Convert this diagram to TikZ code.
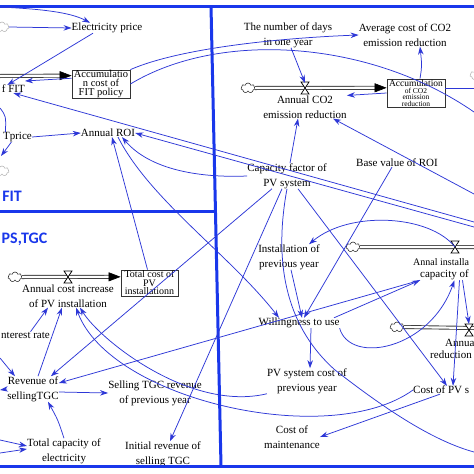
\documentclass[tikz,border=0pt]{standalone}
\usepackage{fontspec}
\setmainfont{Liberation Serif}
\newfontfamily\hdfont{Carlito}
\usetikzlibrary{arrows.meta,shapes.symbols,calc}
\definecolor{frameblue}{RGB}{25,55,235}
\definecolor{linkblue}{RGB}{45,55,215}
\tikzset{
  lbl/.style={font=\fontsize{11}{15}\selectfont, align=center, inner sep=0pt, text=black},
  link/.style={draw=linkblue, line width=0.75pt, -{Stealth[length=8pt,width=5.5pt]}},
  plainlink/.style={draw=linkblue, line width=0.75pt},
  frameline/.style={draw=frameblue, line width=3pt},
  lvlbox/.style={draw=black!80, line width=0.8pt, inner sep=0pt, minimum width=58pt, minimum height=28pt, align=center, fill=white},
  pipe/.style={draw=black!75, double=white, double distance=2.2pt, line width=0.9pt},
  pipetip/.style={-{Triangle[length=12pt,width=9pt]}, draw=black, line width=0.6pt},
  src/.style={cloud, cloud puffs=7, aspect=1.6, draw=black!80, line width=0.6pt, minimum width=14pt, minimum height=10pt, inner sep=0pt, fill=white},
  ghost/.style={src, draw=gray!55},
  hdr/.style={font=\hdfont\bfseries\fontsize{16}{16}\selectfont, text=frameblue, inner sep=0pt},
  valve/.pic={\filldraw[fill=white, draw=black, line width=0.7pt] (-4,-6)--(4,-6)--(-4,6)--(4,6)--cycle;}
}
\begin{document}
\begin{tikzpicture}[x=1pt,y=-1pt]
\useasboundingbox (0,0) rectangle (474,474);
\clip (0,0) rectangle (474,474);
\fill[white] (0,0) rectangle (474,474);

% ---------- nodes: top-left (FIT) ----------
\node[lbl] (elec) at (107,28) {Electricity price};
\node[lbl, anchor=east] (ffit) at (25,89) {f FIT};
\node[lvlbox, font=\fontsize{10.5}{9}\selectfont] (accfit) at (101,84) {Accumulatio\\n cost of\\FIT policy};
\node[lbl, anchor=east] (tprice) at (32,137) {Tprice};
\node[lbl] (roi) at (108,133) {Annual ROI};
\node[hdr, anchor=east] (fit) at (22,196) {FIT};
\node[ghost] (gh1) at (2,27) {};
\node[ghost] (gh2) at (2,171) {};

% ---------- nodes: right panel ----------
\node[lbl] (ndays) at (288,35) {The number of days\\in one year};
\node[lbl] (avgco2) at (405,35) {Average cost of CO2\\emission reduction};
\node[src] (cl1) at (248,88) {};
\coordinate (v1) at (305,88);
\node[lvlbox, font=\fontsize{7.5}{6.5}\selectfont] (accco2) at (416,93) {{\fontsize{9.5}{6.5}\selectfont Accumulation}\\of CO2\\emission\\reduction};
\node[lbl] (co2red) at (305,107) {Annual CO2\\emission reduction};
\node[ghost] (gh3) at (477,75) {};
\node[lbl] (capfac) at (287,176) {Capacity factor of\\PV system};
\node[lbl] (baseroi) at (397,163) {Base value of ROI};
\node[lbl] (instprev) at (289,257) {Installation of\\previous year};
\node[src] (cl2) at (353,247) {};
\coordinate (v2) at (455,247);
\node[lbl, anchor=west, font=\fontsize{10}{15}\selectfont] (annal) at (413,262) {Annal installa};
\node[lbl, anchor=west] (annalb) at (420,275) {capacity of};
\node[lbl] (willing) at (299,323) {Willingness to use};
\node[src] (cl3) at (397,327) {};
\coordinate (v3) at (469,330);
\node[lbl, anchor=west] (annua) at (445,343) {Annua};
\node[lbl, anchor=west] (annuab) at (430,355) {reduction};
\node[lbl, anchor=west] (costpv) at (413,390) {Cost of PV s};
\node[lbl] (pvprev) at (307,381) {PV system cost of\\previous year};
\node[lbl] (costmaint) at (292,437) {Cost of\\maintenance};

% ---------- nodes: bottom-left (RPS,TGC) ----------
\node[hdr, anchor=east] (pstgc) at (47.5,239) {PS,TGC};
\node[src] (cl4) at (15,277) {};
\coordinate (v4) at (68,277);
\node[lvlbox, minimum width=57pt, minimum height=26pt, font=\fontsize{10}{8.5}\selectfont] (totcost) at (149.5,283) {Total cost of\\PV\\installationn};
\node[lbl] (anncost) at (68,296) {Annual cost increase\\of PV installation};
\node[lbl, anchor=east] (interest) at (50,335) {nterest rate};
\node[lbl] (revenue) at (33,389) {Revenue of\\sellingTGC};
\node[lbl] (selltgc) at (155,393) {Selling TGC revenue\\of previous year};
\node[lbl] (totcap) at (64,451) {Total capacity of\\electricity};
\node[lbl] (initrev) at (163,454) {Initial revenue of\\selling TGC};

% ---------- free ends at picture edges ----------
\coordinate (e0) at (0,7);
\coordinate (p0) at (0,76);
\coordinate (r1) at (474,112);
\coordinate (r2) at (474,222);
\coordinate (r3) at (474,227);
\coordinate (r4) at (474,194);
\coordinate (r5) at (474,88);
\coordinate (r6) at (474,452);
\coordinate (r7) at (474,247);
\coordinate (r8) at (474,328);
\coordinate (l0) at (0,108);
\coordinate (l1) at (1,156);
\coordinate (l2) at (0,358);
\coordinate (l3) at (0,390);
\coordinate (l4) at (0,440);
\coordinate (l5) at (0,453);
\coordinate (accin) at ($(accfit.north west)!0.21!(accfit.south west)$);
\coordinate (acc2in) at ($(accco2.north west)!0.32!(accco2.south west)$);
\coordinate (totin) at ($(totcost.north west)!0.27!(totcost.south west)$);

% ---------- frame ----------
\draw[frameline] (0,6) -- (474,6);
\draw[frameline] (211,6) -- (221,466);
\draw[frameline] (0,211) -- (214.5,211);
\draw[frameline] (0,466) -- (474,466);

% ---------- flows (pipes) ----------
\draw[pipe] (p0) -- ($(accin)+(-11,0)$);
\draw[pipetip] ($(accin)+(-12,0)$) -- (accin);
\draw[pipe] (cl1.east) -- ($(acc2in)+(-11,0)$);
\draw[pipetip] ($(acc2in)+(-12,0)$) -- (acc2in);
\draw[pipe] (cl4.east) -- ($(totin)+(-11,0)$);
\draw[pipetip] ($(totin)+(-12,0)$) -- (totin);
\draw[pipe] (cl2.east) -- (r7);
\draw[pipe] (cl3.east) -- (r8);
\pic at (v1) {valve};
\pic at (v2) {valve};
\pic at (v3) {valve};
\pic at (v4) {valve};

% ---------- links: FIT panel ----------
\draw[link] (e0) .. controls (40,9) and (70,12) .. ([xshift=-17pt]elec.north);
\draw[link] (gh1.east) -- (elec.west);
\draw[link] ([xshift=-14pt]elec.south) -- ([xshift=-6pt]ffit.north);
\draw[link] ($(accfit.north west)!0.3!(accfit.south west)$) -- ([yshift=8pt]ffit.east);
\draw[link] (accfit.north east) .. controls (180,48) and (280,38) .. (avgco2.west);
\draw[plainlink] (accfit.east) .. controls (220,30) and (370,40) .. (r1);
\draw[link] (r2) -- (ffit.south);
\draw[link] (r3) -- (roi.east);
\draw[link] (capfac.west) .. controls (200,178) and (150,170) .. ([xshift=14pt]roi.south);
\draw[link] (tprice.east) -- (roi.west);
\draw[link] ([xshift=-6pt]tprice.south) -- (l1);
\draw[plainlink] (l0) .. controls (6,116) .. ([xshift=-12pt]tprice.north);
\draw[link] ([xshift=-2pt]totcost.north) -- ([xshift=4pt]roi.south);
\draw[link] ([xshift=10pt]roi.south) .. controls (150,200) and (230,255) .. ([xshift=-20pt]willing.north);

% ---------- links: CO2 / right panel ----------
\draw[link] ([xshift=3pt]ndays.south) -- ([yshift=5pt]v1);
\draw[link] ([xshift=4pt]accco2.north) .. controls (422,66) .. ([xshift=15pt]avgco2.south);
\draw[link] (accco2.west) -- (co2red.north east);
\draw[plainlink] ([yshift=5pt]accco2.east) -- (r5);
\draw[link] ([xshift=3pt]capfac.north) -- ([xshift=-7pt]co2red.south);
\draw[link] (r4) -- ([xshift=28pt]co2red.south);
\draw[link] ([xshift=-5pt]baseroi.south) -- ([xshift=5pt]willing.north);
\draw[link] ([xshift=-15pt]capfac.south) -- ([xshift=-8pt]revenue.north east);
\draw[link] ([xshift=-5pt]capfac.south) -- ([xshift=7pt]initrev.north);
\draw[plainlink] (capfac.south) .. controls (272,270) and (290,330) .. (335,370) .. controls (380,405) and (430,440) .. (r6);
\draw[link] ([xshift=11pt]capfac.south) -- ([xshift=34pt]costpv.north west);
\draw[link] ([xshift=2pt]instprev.south) -- ([xshift=3pt]willing.north);
\draw[link] (v2) .. controls (430,215) and (350,210) .. ([xshift=20pt]instprev.north);
\draw[link] ([xshift=35pt]willing.north) -- (annalb.south west);
\draw[link] (annalb.south west) -- ([yshift=6pt]revenue.east);
\draw[link] (willing.south east) .. controls (350,365) and (430,350) .. ([xshift=10pt]annalb.south);
\draw[link] ([xshift=15pt]annalb.south) -- ([xshift=40pt]costpv.north west);
\draw[link] ([xshift=18pt]annalb.south) -- ([yshift=6pt]v3);
\draw[link] ([xshift=12pt]willing.south) -- ([xshift=3pt]pvprev.north);
\draw[link] (pvprev.south west) .. controls (190,412) and (100,340) .. ([xshift=12pt]anncost.south);
\draw[link] (costpv.west) .. controls (330,450) and (110,400) .. ([xshift=8pt]anncost.south);
\draw[link] ([xshift=27pt]costpv.south west) -- (costmaint.east);

% ---------- links: TGC panel ----------
\draw[link] ([xshift=5pt]interest.north) -- ([xshift=-20pt]anncost.south);
\draw[link] ([xshift=5pt]revenue.north) -- ([xshift=-6pt]anncost.south);
\draw[link] (l2) -- ([xshift=-18pt]revenue.north);
\draw[link] (revenue.west) -- (l3);
\draw[link] ([yshift=-3pt]revenue.east) -- (selltgc.west);
\draw[link] (totcap.north) .. controls (58,420) .. ([xshift=15pt]revenue.south);
\draw[link] (l4) -- ([yshift=5pt]totcap.west);
\draw[link] (l5) -- ([yshift=2pt]totcap.west);
\end{tikzpicture}
\end{document}
